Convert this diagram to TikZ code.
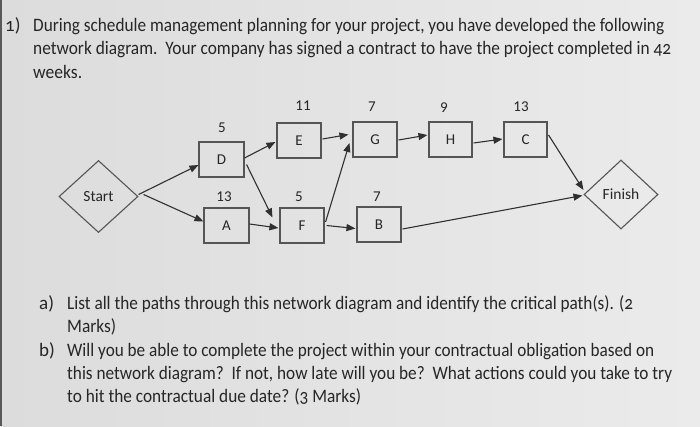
\documentclass[tikz,border=0pt]{standalone}
\usepackage{fontspec}
\usepackage{graphicx}
\setmainfont{Carlito}[Numbers=OldStyle]
\newfontfamily\lblfont{Carlito}[Numbers=Lining]
\usetikzlibrary{shapes.geometric,arrows.meta}
\definecolor{bgA}{HTML}{DCDCDC}
\definecolor{bgB}{HTML}{EBEBEB}
\definecolor{ink}{HTML}{262626}
\definecolor{edgec}{HTML}{555555}
\definecolor{arr}{HTML}{303030}
\tikzset{
  task/.style={draw=edgec, line width=1.1pt, minimum width=44pt, minimum height=35pt,
    inner sep=0pt, font=\lblfont\fontsize{15}{17}\selectfont, text=ink},
  milestone/.style={diamond, draw=edgec, line width=1.1pt, inner sep=0pt,
    font=\lblfont\fontsize{15.5}{17}\selectfont, text=ink},
  dur/.style={inner sep=0pt, font=\lblfont\fontsize{15}{17}\selectfont, text=ink},
  link/.style={draw=arr, line width=1.1pt, -{Triangle[length=9pt,width=7pt]}},
  qline/.style={anchor=base west, inner sep=0pt, text=ink, font=\fontsize{19}{22}\selectfont},
}
\begin{document}
\begin{tikzpicture}[x=1pt,y=-1pt]
\shade[left color=bgA,right color=bgB] (0,0) rectangle (700,426);
\useasboundingbox (0,0) rectangle (700,426);
\draw[gray!70!black, line width=1.5pt] (0.75,0) -- (0.75,426);

% question text
\node[qline] (n1) at (5,31) {1)};
\node[qline] (t1) at (33,31) {\resizebox{631pt}{\height}{During schedule management planning for your project, you have developed the following}};
\node[qline] (t2) at (33,54.5) {\resizebox{638pt}{\height}{network diagram.\ \ Your company has signed a contract to have the project completed in 42}};
\node[qline] (t3) at (33,78) {\resizebox{49pt}{\height}{weeks.}};

\node[qline] (na) at (39,309) {a)};
\node[qline] (a1) at (67,309) {\resizebox{566pt}{\height}{List all the paths through this network diagram and identify the critical path(s). (2}};
\node[qline] (a2) at (67,332) {\resizebox{49pt}{\height}{Marks)}};
\node[qline] (nb) at (39,356) {b)};
\node[qline] (b1) at (67,356) {\resizebox{587pt}{\height}{Will you be able to complete the project within your contractual obligation based on}};
\node[qline] (b2) at (67,379) {\resizebox{605pt}{\height}{this network diagram?\ \ If not, how late will you be?\ \ What actions could you take to try}};
\node[qline] (b3) at (67,402) {\resizebox{294pt}{\height}{to hit the contractual due date? (3 Marks)}};

% network
\node[milestone, minimum width=79pt, minimum height=72pt] (start) at (98.5,196.5) {Start};
\node[milestone, minimum width=74pt, minimum height=69pt] (finish) at (621,194.5) {Finish};

\node[task, minimum width=45pt] (D) at (221.5,159.5) {D};
\node[task, minimum width=45pt] (A) at (226.5,225.5) {A};
\node[task] (E) at (299,140.5) {E};
\node[task] (F) at (302,225.5) {F};
\node[task] (G) at (375,139.5) {G};
\node[task, minimum width=43pt] (H) at (450.5,139.5) {H};
\node[task, minimum width=43pt] (C) at (525.5,139.5) {C};
\node[task] (B) at (379,224.5) {B};

\node[dur] (dD) at (222,128) {5};
\node[dur] (dA) at (224,197) {13};
\node[dur] (dE) at (303,106) {11};
\node[dur] (dF) at (299,197) {5};
\node[dur] (dG) at (372,107) {7};
\node[dur] (dB) at (377,197) {7};
\node[dur] (dH) at (444,108) {9};
\node[dur] (dC) at (521,107) {13};

% connectors
\draw[link] ([yshift=2pt]start.east) -- ([yshift=-5.5pt]D.west);
\draw[link] ([xshift=5pt,yshift=2pt]start.east) -- ([yshift=4pt]A.west);
\draw[link] ([yshift=1.5pt]D.east) -- ([xshift=-1pt,yshift=-1.5pt]E.west);
\draw[link] ([xshift=2pt,yshift=-5pt]D.east) -- ([xshift=-7pt,yshift=-10pt]F.north west);
\draw[link] ([yshift=1.5pt]A.east) -- ([xshift=-1pt,yshift=-2.5pt]F.west);
\draw[link] ([xshift=1pt,yshift=1.5pt]E.east) -- ([xshift=-4pt,yshift=5pt]G.west);
\draw[link] ([xshift=1pt,yshift=3.5pt]F.east) -- ([xshift=-3pt,yshift=-3.5pt]G.west);
\draw[link] ([xshift=2pt]F.east) -- ([xshift=-1pt,yshift=-4pt]B.west);
\draw[link] ([xshift=1pt,yshift=-0.5pt]G.east) -- ([xshift=-1pt,yshift=4.5pt]H.west);
\draw[link] ([xshift=1pt,yshift=-3.5pt]H.east) -- ([xshift=-1pt,yshift=0.5pt]C.west);
\draw[link] ([xshift=1pt,yshift=4.5pt]C.east) -- ([yshift=4.5pt]finish.west);
\draw[link] ([xshift=1pt,yshift=-4.5pt]B.east) -- ([xshift=-1pt,yshift=-1pt]finish.west);
\end{tikzpicture}
\end{document}
